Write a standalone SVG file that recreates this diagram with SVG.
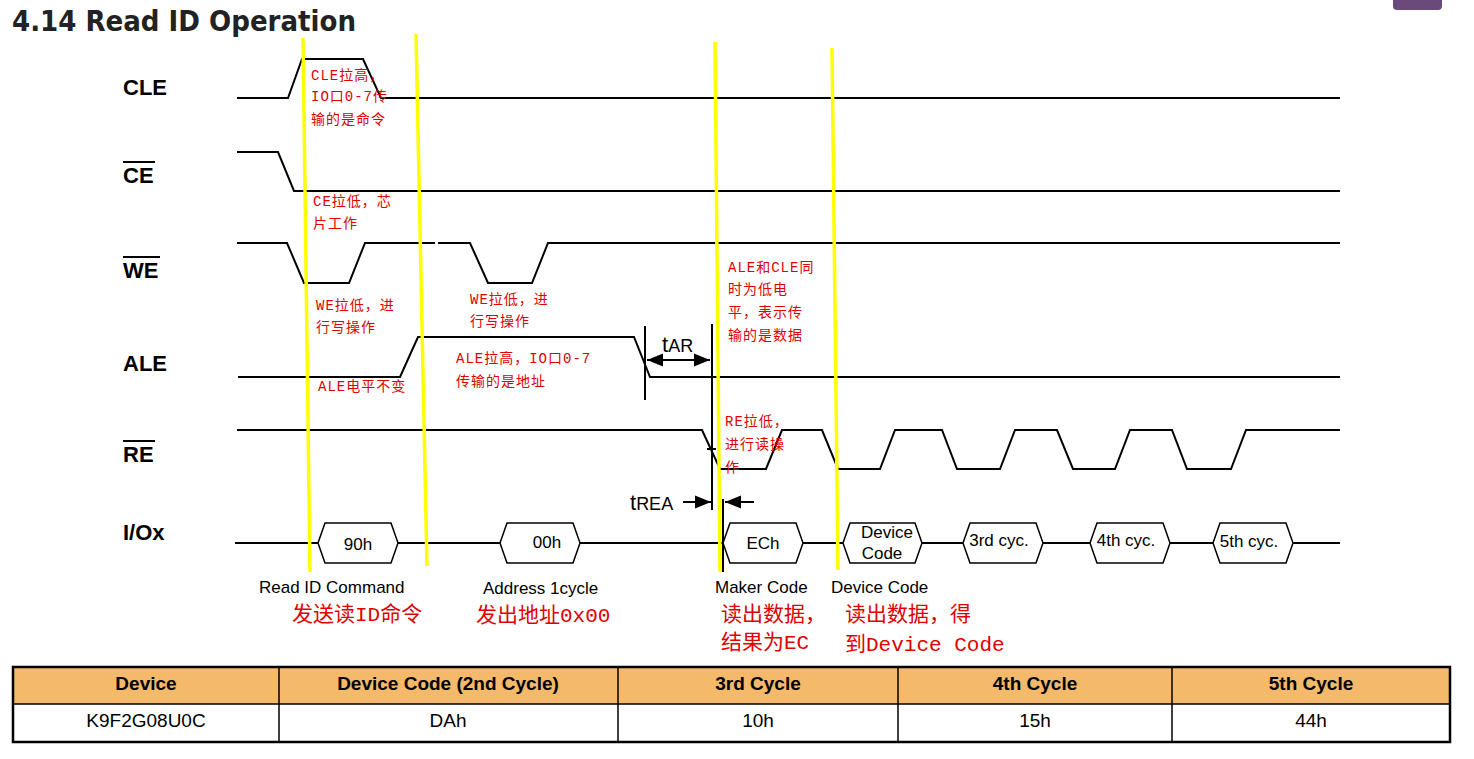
<svg xmlns="http://www.w3.org/2000/svg" width="1474" height="759" viewBox="0 0 1474 759">
<style>
.sig{fill:none;stroke:#000;stroke-width:2}
.yl{stroke:#ffff00;stroke-width:3.5;fill:none}
.lbl{font-family:"Liberation Sans",Arial,sans-serif;font-weight:bold;font-size:22px;fill:#000}
.t{font-family:"Liberation Sans",Arial,sans-serif;font-size:17px;fill:#000}
.r{font-family:"Liberation Mono","Noto Sans CJK SC",monospace;font-size:14px;fill:#e00000;letter-spacing:1px}
.rb{font-family:"Liberation Mono","Noto Sans CJK SC",monospace;font-size:21px;fill:#e00000}
.hx{fill:#fff;stroke:#000;stroke-width:1.5}
.th{font-family:"Liberation Sans",Arial,sans-serif;font-weight:bold;font-size:19px;fill:#000}
.td{font-family:"Liberation Sans",Arial,sans-serif;font-size:19px;fill:#000}
</style>
<defs>
<marker id="ar" viewBox="0 0 10 10" refX="10" refY="5" markerWidth="8" markerHeight="8" orient="auto-start-reverse"><path d="M0,1 L10,5 L0,9 z" fill="#000"/></marker>
</defs>
<rect width="1474" height="759" fill="#fff"/>
<text x="12" y="31" font-family="DejaVu Sans Condensed,Liberation Sans,sans-serif" font-size="29" font-weight="bold" fill="#222">4.14 Read ID Operation</text>
<rect x="1393" y="-6" width="49" height="16" rx="4" fill="#6a4a7a"/>

<g id="labels">
<text class="lbl" x="123" y="95">CLE</text>
<text class="lbl" x="123" y="183">CE</text><line x1="123" y1="162" x2="155" y2="162" stroke="#000" stroke-width="2"/>
<text class="lbl" x="123" y="278">WE</text><line x1="123" y1="257" x2="160" y2="257" stroke="#000" stroke-width="2"/>
<text class="lbl" x="123" y="371">ALE</text>
<text class="lbl" x="123" y="462">RE</text><line x1="123" y1="441" x2="155" y2="441" stroke="#000" stroke-width="2"/>
<text class="lbl" x="123" y="540">I/Ox</text>
</g>

<g id="connectors">
<polyline class="sig" points="237,98 288,98 302,59 363,59 381,98 1340,98"/>
<polyline class="sig" points="237,152 278,152 294,191 1340,191"/>
<polyline class="sig" points="237,243 287,243 304,283 349,283 365,243 435,243"/>
<polyline class="sig" points="438,243 470,243 488,283 532,283 548,243 1340,243"/>
<polyline class="sig" points="238,377 400,377 418,337 634,337 650,377 1340,377"/>
<polyline class="sig" points="237,430 702,430 720,469 766,469 782,430 822,430 838,469 880,469 895,430 942,430 957,469 1000,469 1015,430 1057,430 1073,469 1115,469 1130,430 1172,430 1187,469 1231,469 1246,430 1340,430"/>
<line class="sig" x1="235" y1="543" x2="1340" y2="543"/>
<line class="sig" x1="645" y1="326" x2="645" y2="400"/>
<line class="sig" x1="712" y1="324" x2="712" y2="510"/>
<line class="sig" x1="647" y1="360" x2="710" y2="360" marker-start="url(#ar)" marker-end="url(#ar)"/>
<line class="sig" x1="707" y1="449" x2="716" y2="449"/>
<line class="sig" x1="723" y1="499" x2="723" y2="572"/>
<line class="sig" x1="683" y1="502" x2="711" y2="502" marker-end="url(#ar)"/>
<line class="sig" x1="754" y1="502" x2="725" y2="502" marker-end="url(#ar)"/>
<text class="t" x="662" y="352" style="font-size:22px">t<tspan style="font-size:18px">AR</tspan></text>
<text class="t" x="630" y="510" style="font-size:22px">t<tspan style="font-size:18px">REA</tspan></text>
</g>

<g id="io">
<polygon class="hx" points="318,543 325,523 391,523 398,543 391,563 325,563"/>
<text class="t" x="358" y="550" text-anchor="middle">90h</text>
<polygon class="hx" points="500,543 507,523 573,523 580,543 573,563 507,563"/>
<text class="t" x="547" y="548" text-anchor="middle">00h</text>
<polygon class="hx" points="723,543 730,523 796,523 803,543 796,563 730,563"/>
<text class="t" x="763" y="549" text-anchor="middle">ECh</text>
<polygon class="hx" points="843,543 850,523 915,523 922,543 915,563 850,563"/>
<text class="t" x="887" y="538" text-anchor="middle">Device</text>
<text class="t" x="882" y="559" text-anchor="middle">Code</text>
<polygon class="hx" points="963,543 970,523 1036,523 1043,543 1036,563 970,563"/>
<text class="t" x="999" y="546" text-anchor="middle">3rd cyc.</text>
<polygon class="hx" points="1090,543 1097,523 1163,523 1170,543 1163,563 1097,563"/>
<text class="t" x="1126" y="546" text-anchor="middle">4th cyc.</text>
<polygon class="hx" points="1213,543 1220,523 1286,523 1293,543 1286,563 1220,563"/>
<text class="t" x="1249" y="547" text-anchor="middle">5th cyc.</text>
<text class="t" x="259" y="593">Read ID Command</text>
<text class="t" x="483" y="594">Address 1cycle</text>
<text class="t" x="715" y="593">Maker Code</text>
<text class="t" x="831" y="593">Device Code</text>
</g>

<g id="yellow">
<line class="yl" x1="303" y1="38" x2="310" y2="572"/>
<line class="yl" x1="416" y1="34" x2="427" y2="566"/>
<line class="yl" x1="715" y1="42" x2="720" y2="572"/>
<line class="yl" x1="832" y1="48" x2="838" y2="570"/>
</g>

<g id="notes">
<text class="r" x="311" y="80">CLE拉高，</text>
<text class="r" x="311" y="101">IO口0-7传</text>
<text class="r" x="311" y="124">输的是命令</text>
<text class="r" x="313" y="206">CE拉低，芯</text>
<text class="r" x="313" y="228">片工作</text>
<text class="r" x="316" y="310">WE拉低，进</text>
<text class="r" x="316" y="332">行写操作</text>
<text class="r" x="470" y="304">WE拉低，进</text>
<text class="r" x="470" y="326">行写操作</text>
<text class="r" x="318" y="391">ALE电平不变</text>
<text class="r" x="456" y="363">ALE拉高，IO口0-7</text>
<text class="r" x="456" y="386">传输的是地址</text>
<text class="r" x="728" y="272">ALE和CLE同</text>
<text class="r" x="728" y="294">时为低电</text>
<text class="r" x="728" y="317">平，表示传</text>
<text class="r" x="728" y="340">输的是数据</text>
<text class="r" x="725" y="426">RE拉低，</text>
<text class="r" x="725" y="449">进行读操</text>
<text class="r" x="725" y="472">作</text>
<text class="rb" x="292" y="621">发送读ID命令</text>
<text class="rb" x="476" y="622">发出地址0x00</text>
<text class="rb" x="721" y="621">读出数据，</text>
<text class="rb" x="721" y="649">结果为EC</text>
<text class="rb" x="845" y="621">读出数据，得</text>
<text class="rb" x="845" y="651">到Device Code</text>
</g>

<g id="table">
<rect x="13" y="667" width="1437" height="37" fill="#f4b96b"/>
<rect x="13" y="667" width="1437" height="75" fill="none" stroke="#000" stroke-width="2.5"/>
<line x1="13" y1="704" x2="1450" y2="704" stroke="#000" stroke-width="1.5"/>
<g stroke="#000" stroke-width="1.5">
<line x1="279" y1="667" x2="279" y2="742"/><line x1="618" y1="667" x2="618" y2="742"/>
<line x1="898" y1="667" x2="898" y2="742"/><line x1="1172" y1="667" x2="1172" y2="742"/>
</g>
<text class="th" x="146" y="690" text-anchor="middle">Device</text>
<text class="th" x="448" y="690" text-anchor="middle">Device Code (2nd Cycle)</text>
<text class="th" x="758" y="690" text-anchor="middle">3rd Cycle</text>
<text class="th" x="1035" y="690" text-anchor="middle">4th Cycle</text>
<text class="th" x="1311" y="690" text-anchor="middle">5th Cycle</text>
<text class="td" x="146" y="727" text-anchor="middle">K9F2G08U0C</text>
<text class="td" x="448" y="727" text-anchor="middle">DAh</text>
<text class="td" x="758" y="727" text-anchor="middle">10h</text>
<text class="td" x="1035" y="727" text-anchor="middle">15h</text>
<text class="td" x="1311" y="727" text-anchor="middle">44h</text>
</g>
</svg>
